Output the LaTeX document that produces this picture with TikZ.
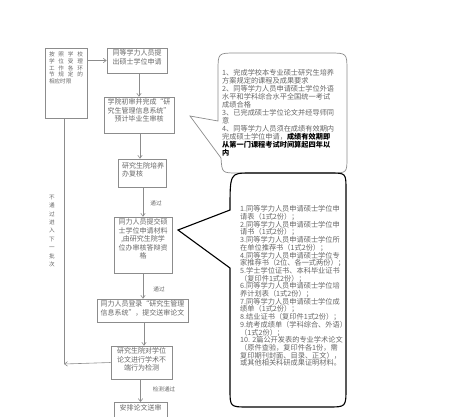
\documentclass[tikz,border=0pt]{standalone}
\usepackage{fontspec}
\setmainfont{Noto Sans CJK SC}
\usetikzlibrary{arrows.meta,positioning}
\definecolor{lineGray}{gray}{0.55}
\definecolor{textGray}{gray}{0.4}

\begin{document}
\begin{tikzpicture}[x=1pt,y=1pt,
    flowbox/.style={draw=lineGray, text=textGray, inner sep=2pt, line width=0.6pt, font=\fontsize{7}{8.4}\selectfont},
    flowarrow/.style={draw=lineGray, line width=0.6pt, -{Straight Barb[length=3pt,width=4.5pt]}},
    passlabel/.style={text=textGray, inner sep=0pt, font=\fontsize{5.6}{6}\selectfont},
    bubbletext/.style={anchor=north west, text=textGray, inner sep=0pt, align=left},
  ]
    \useasboundingbox (0,0) rectangle (474,-416);
    \clip (0,0) rectangle (474,-416);

    % flow boxes
    \node[flowbox, inner sep=4pt, font=\fontsize{5.6}{6.7}\selectfont] (limit) at (66,-83)
      {\parbox[c][62pt][t]{34pt}{按\hfill 照\hfill 学\hfill 校\\ 学\hfill 位\hfill 受\hfill 理\\ 工\hfill 作\hfill 各\hfill 环\\ 节\hfill 规\hfill 定\hfill 的\\ 相应时限}};
    \node[flowbox] (apply) at (137,-60.5)
      {\parbox[c][21pt][t]{56pt}{\centering 同等学力人员提\\出硕士学位申请}};
    \node[flowbox] (precheck) at (139,-115)
      {\parbox[c][32pt][t]{66pt}{\centering 学院初审并完成“研\\究生管理信息系统”\\预计毕业生审核}};
    \node[flowbox] (recheck) at (142,-173)
      {\parbox[c][24pt][t]{44pt}{\vspace{1.5pt}\raggedright\hspace*{2pt}研究生院培养\\\hspace*{2pt}办复核}};
    \node[flowbox] (submit) at (143,-245)
      {\parbox[c][52pt][t]{54pt}{\centering 同力人员提交硕\\士学位申请材料\\,由研究生院学\\位办审核答辩资\\格}};
    \node[flowbox] (login) at (142.5,-310.5)
      {\parbox[c][19pt][t]{87pt}{\centering 同力人员登录“研究生管理\\信息系统”，提交送审论文}};
    \node[flowbox] (detect) at (141.5,-362.5)
      {\parbox[c][29pt][t]{57pt}{\centering 研究生院对学位\\论文进行学术不\\端行为检测}};
    \node[flowbox, anchor=north] (review) at (140.5,-402)
      {\parbox[c][26pt][t]{49pt}{\centering 安排论文送审}};

    % connectors
    \draw[flowarrow] (limit.east |- apply.west) -- (apply.west);
    \draw[flowarrow] (precheck.north |- apply.south) -- (precheck.north);
    \draw[flowarrow] (precheck.south -| 140,0) -- (recheck.north -| 140,0);
    \draw[flowarrow] (submit.north |- recheck.south) -- (submit.north);
    \draw[flowarrow] (submit.south) -- (login.north -| submit.south);
    \draw[flowarrow] (login.south -| 144,0) -- (detect.north -| 144,0);
    \draw[flowarrow] (review.north |- detect.south) -- (review.north);
    \coordinate (back) at (64,-364);
    \draw[flowarrow] (detect.west) -- (back);
    \draw[draw=lineGray, line width=0.6pt] (limit.south -| back) -- (back);

    \node[passlabel] (pass1) at (156,-203) {通过};
    \node[passlabel] (pass2) at (159,-289) {通过};
    \node[passlabel] (pass3) at (164,-389) {检测通过};
    \node[passlabel, align=center, font=\fontsize{5.6}{8.4}\selectfont] (retry) at (52,-231)
      {不\\通\\过\\进\\入\\下\\一\\批\\次};

    % callouts
    \draw[draw=lineGray, line width=0.7pt] (190,-116) -- (218,-121) -- (218,-71)
      .. controls (218,-53) .. (236,-53) -- (329,-53) .. controls (347,-53) .. (347,-71)
      -- (347,-157) .. controls (347,-173) .. (331,-173) -- (238,-173)
      .. controls (222,-173) .. (221,-158) -- cycle;
    \draw[black, line width=1.1pt] (178,-230) -- (230,-210)
      .. controls (230,-173) .. (250,-173) -- (330,-173) .. controls (346,-173) .. (346,-190)
      -- (346,-388) .. controls (346,-407) .. (328,-407) -- (248,-407)
      .. controls (230,-407) .. (230,-389) -- (230,-268) -- cycle;

    \node[bubbletext, font=\fontsize{7.2}{8}\selectfont] (terms) at (222,-69.5)
      {1、完成学校本专业硕士研究生培养\\
       方案规定的课程及成果要求\\
       2、同等学力人员申请硕士学位外语\\
       水平和学科综合水平全国统一考试\\
       成绩合格\\
       3、已完成硕士学位论文并经导师同\\
       意\\
       4、同等学力人员须在成绩有效期内\\
       完成硕士学位申请，\textcolor{black}{\bfseries 成绩有效期即}\\
       \textcolor{black}{\bfseries 从第一门课程考试时间算起四年以}\\
       \textcolor{black}{\bfseries 内}};
    \node[bubbletext, font=\fontsize{7.2}{7.7}\selectfont] (papers) at (240,-205.5)
      {1.同等学力人员申请硕士学位申\\
       请表（1式2份）；\\
       2.同等学力人员申请硕士学位申\\
       请书（1式2份）；\\
       3.同等学力人员申请硕士学位所\\
       在单位推荐书（1式2份）；\\
       4.同等学力人员申请硕士学位专\\
       家推荐书（2位、各一式两份）；\\
       5.学士学位证书、本科毕业证书\\
       （复印件1式2份）；\\
       6.同等学力人员申请硕士学位培\\
       养计划表（1式2份）；\\
       7.同等学力人员申请硕士学位成\\
       绩单（1式2份）；\\
       8.结业证书（复印件1式2份）；\\
       9.统考成绩单（学科综合、外语）\\
       （1式2份）；\\
       10. 2篇公开发表的专业学术论文\\
       （原件查验，复印件各1份，需\\
       复印期刊封面、目录、正文），\\
       或其他相关科研成果证明材料。};
\end{tikzpicture}
\end{document}
